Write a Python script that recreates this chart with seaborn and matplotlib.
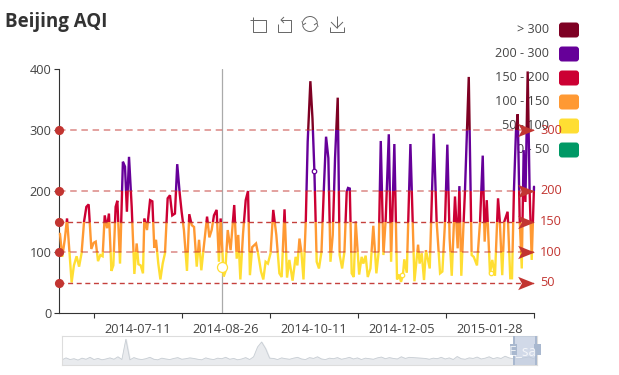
import numpy as np
import pandas as pd
import matplotlib
matplotlib.use('Agg')
import matplotlib.pyplot as plt
import seaborn as sns
from matplotlib.patches import Rectangle, FancyBboxPatch, Arc
from matplotlib.path import Path

# position along the category axis and AQI
obs = [0.5, 1.7, 3.0, 4.2, 5.4, 6.6, 7.8, 9.2, 10.5, 11.8, 13.1, 14.3, 15.5, 16.9, 18.1, 19.2, 20.4, 21.6, 22.8, 23.9,
       25.1, 26.1, 27.4, 28.4, 29.6, 30.5, 31.9, 33.4, 34.5, 35.5, 36.6, 38.0, 39.4, 40.6, 41.5, 42.7, 43.9, 44.6, 46.0, 47.6,
       48.8, 49.8, 50.7, 51.9, 53.0, 54.2, 55.4, 56.8, 58.0, 59.2, 60.6, 61.8, 63.1, 64.1, 65.3, 66.9, 68.1, 69.4, 70.6, 72.0,
       73.2, 74.4, 75.6, 77.4, 78.6, 79.8, 81.0, 82.4, 83.6, 84.5, 86.1, 86.9, 88.2, 89.7, 91.6, 92.9, 93.7, 94.8, 96.2, 97.6,
       98.8, 99.8, 101.0, 103.0, 104.2, 105.6, 106.8, 108.0, 109.2, 110.6, 112.0, 113.6, 115.2, 116.4, 117.9, 119.2, 120.4, 122.1, 123.7, 124.6,
       125.7, 126.7, 127.8, 129.0, 130.0, 131.4, 132.5, 133.5, 134.7, 135.9, 137.2, 138.4, 139.6, 140.8, 141.9, 143.1, 144.3, 145.7, 146.7, 148.0,
       149.2, 150.4, 151.1, 152.0, 153.0, 154.1, 155.1, 156.9, 158.2, 159.1, 160.3, 161.4, 162.8, 164.3, 165.9, 167.1, 168.2, 169.6, 170.8, 172.4,
       173.6, 175.3, 176.7, 177.8, 178.8, 179.8, 180.5, 181.8, 183.7, 185.8, 187.7, 188.5, 189.6, 190.8, 191.8, 193.8, 195.9, 197.4, 199.2, 200.4,
       201.8, 203.0, 204.2, 205.3, 207.0, 208.4, 209.3, 210.3, 212.2, 214.2, 215.7, 216.8, 218.5, 220.1, 221.5, 222.5, 223.6, 225.3, 226.5, 227.9,
       229.5, 230.4, 231.7, 232.8, 234.5, 235.9, 236.8, 237.8, 238.9, 239.8, 240.8, 241.9, 242.9, 243.8, 245.0, 246.0, 247.1, 248.3]
aqi = [130, 92, 120, 155, 103, 50, 78, 93, 76, 98, 150, 174, 178, 105, 115, 117, 85, 95, 93, 160,
       139, 163, 69, 78, 174, 184, 81, 248, 240, 166, 256, 174, 64, 114, 80, 78, 65, 155, 136, 185,
       183, 107, 120, 81, 55, 81, 98, 188, 193, 160, 163, 244, 196, 166, 136, 69, 162, 144, 141, 76,
       120, 70, 106, 158, 124, 136, 160, 169, 84, 155, 60, 67, 136, 103, 177, 89, 128, 55, 130, 185,
       200, 62, 108, 114, 95, 68, 55, 84, 81, 98, 169, 128, 65, 59, 170, 58, 87, 53, 92, 78,
       122, 100, 55, 150, 281, 380, 319, 233, 84, 73, 100, 200, 289, 254, 84, 128, 254, 353, 95, 73,
       100, 199, 205, 204, 65, 59, 150, 63, 92, 81, 94, 59, 73, 143, 65, 100, 282, 95, 155, 293,
       84, 277, 55, 63, 51, 63, 88, 66, 277, 52, 112, 81, 98, 54, 103, 73, 294, 150, 65, 68,
       150, 276, 122, 61, 191, 106, 208, 61, 199, 387, 95, 92, 78, 150, 258, 117, 185, 65, 87, 61,
       188, 152, 62, 150, 166, 57, 57, 200, 300, 326, 155, 73, 267, 182, 396, 200, 87, 207]

# visual map pieces
piece_labels = ['> 300', '200 - 300', '150 - 200', '100 - 150', '50 - 100', '0 - 50']
piece_colors = ['#7e0023', '#660099', '#cc0033', '#ff9933', '#ffde33', '#009966']
piece_low = [300, 200, 150, 100, 50, 0]
piece_high = [500, 300, 200, 150, 100, 50]

levels = [50, 100, 150, 200, 300]
level_alpha = [0.95, 0.5, 0.95, 0.5, 0.5]

x_ticks = [18.3, 64.3, 110.3, 156.3, 202.3, 248.3]
x_label_pos = [41.3, 87.3, 133.3, 179.3, 225.3]
x_labels = ['2014-07-11', '2014-08-26', '2014-10-11', '2014-12-05', '2015-01-28']
y_ticks = [0, 100, 200, 300, 400]

# hollow symbols left on the line
hover_obs = [85.2, 133.5, 179.3, 225.7]
hover_aqi = [75, 233, 62, 65]
hover_col = ['#ffde33', '#660099', '#ffde33', '#ffde33']
hover_size = [7.2, 3.2, 3.2, 3.2]
pointer_obs = 85.2

# whole range series in the slider
overview = [95, 130, 100, 115, 90, 125, 105, 140, 100, 120, 95, 110, 130, 105, 150, 100, 470, 95, 135, 110,
            100, 115, 140, 105, 95, 125, 110, 100, 120, 135, 105, 115, 130, 120, 105, 95, 130, 110, 100, 125,
            115, 140, 105, 120, 95, 110, 135, 100, 150, 330, 420, 300, 125, 120, 100, 130, 115, 105, 125, 140,
            110, 100, 135, 120, 150, 110, 100, 125, 115, 135, 105, 120, 140, 110, 130, 100, 125, 115, 105, 130,
            145, 115, 135, 120, 110, 150, 120, 140, 135, 130, 125, 120, 105, 125, 115, 140, 110, 130, 100, 155,
            115, 105, 130, 120, 145, 110, 125, 150, 115, 135, 120, 160, 130, 115, 145, 125, 135, 150, 120, 140]

RED = '#c23531'
TXT = '#444444'

sns.set_style('white')
plt.rcParams['font.family'] = ['Open Sans', 'DejaVu Sans']
plt.rcParams['font.size'] = 9

W, H = 619, 375
fig = plt.figure(figsize=(W / 100, H / 100), dpi=100)

# pixel space layer for title, legend, toolbox
bg = fig.add_axes([0, 0, 1, 1], zorder=1)
bg.set_xlim(0, W)
bg.set_ylim(H, 0)
bg.axis('off')

ax = fig.add_axes([59 / W, (H - 313) / H, 475 / W, 244 / H], zorder=2)
ax.patch.set_visible(False)

df = pd.DataFrame({'obs': obs, 'aqi': aqi})

# ---------------------------------------------------------
# one line per piece, clipped to its band
# ---------------------------------------------------------
for col, lo, hi in zip(piece_colors, piece_low, piece_high):
    sns.lineplot(data=df, x='obs', y='aqi', color=col, linewidth=1.7, estimator=None, sort=False, ax=ax, zorder=3)
    line = ax.lines[-1]
    line.set_solid_joinstyle('miter')
    line.set_clip_path(Rectangle((-5, lo), 260, hi - lo, transform=ax.transData))

ax.set_xlim(0, 248.3)
ax.set_ylim(0, 400)
ax.set_xlabel('')
ax.set_ylabel('')

sns.despine(ax=ax)
for s in ['left', 'bottom']:
    ax.spines[s].set_color('#333333')
    ax.spines[s].set_linewidth(0.8)

ax.set_yticks(y_ticks)
ax.tick_params(axis='y', length=3.6, width=0.8, color='#333333', labelcolor=TXT, labelsize=9.2, pad=2, left=True)
ax.set_xticks(x_label_pos)
ax.set_xticklabels(x_labels)
ax.set_xticks(x_ticks, minor=True)
ax.tick_params(axis='x', which='major', length=0, labelcolor=TXT, labelsize=9.2, pad=7)
ax.tick_params(axis='x', which='minor', length=3.6, width=0.8, color='#333333', bottom=True)

ax.axvline(pointer_obs, color='#aaaaaa', linewidth=0.9, zorder=2)

# mark lines with both end symbols
arrow = Path([(-1, 0.8), (1, 0), (-1, -0.8), (-0.55, 0), (-1, 0.8)],
             [Path.MOVETO, Path.LINETO, Path.LINETO, Path.LINETO, Path.CLOSEPOLY])
for lev, al in zip(levels, level_alpha):
    ax.axhline(lev, color=RED, linestyle=(0, (3.6, 2.6)), linewidth=1.3 if al < 0.9 else 1.0, alpha=al, zorder=4)
    ax.plot([0], [lev], 'o', color=RED, markersize=6.6, markeredgewidth=0, clip_on=False, zorder=6)
    ax.plot([248.3 - 4], [lev], marker=arrow, color=RED, markersize=12, markeredgewidth=0, clip_on=False, zorder=6)
    ax.annotate(str(lev), (248.3, lev), xytext=(4.5, 0), textcoords='offset points', color=RED,
                fontsize=9.2, va='center', ha='left', annotation_clip=False, zorder=6)

for xv, yv, c, ms in zip(hover_obs, hover_aqi, hover_col, hover_size):
    ax.plot([xv], [yv], 'o', markerfacecolor='white', markeredgecolor=c, markeredgewidth=0.9,
            markersize=ms, zorder=5)

# ---------------------------------------------------------
# title, legend
# ---------------------------------------------------------
bg.text(5, 22, 'Beijing AQI', fontsize=13.5, fontweight='bold', color='#333333', va='center', ha='left')

for i, (lab, col) in enumerate(zip(piece_labels, piece_colors)):
    yc = 30 + i * 24
    bg.add_patch(FancyBboxPatch((561, yc - 5.5), 16, 11, boxstyle='round,pad=2,rounding_size=3',
                                facecolor=col, edgecolor='none'))
    bg.text(549, yc - 0.5, lab, fontsize=9.1, color=TXT, va='center', ha='right')

# ---------------------------------------------------------
# toolbox icons
# ---------------------------------------------------------
ic = dict(color='#666666', linewidth=0.7, solid_capstyle='butt')
bg.plot([253, 253, 266, 266, 253], [20, 32, 32, 20, 20], **ic)
bg.plot([250, 258], [20, 20], **ic)
bg.plot([253, 253], [17, 22], **ic)
bg.plot([281, 291, 291, 278, 278], [20, 20, 32, 32, 24], **ic)
bg.plot([284, 281, 284], [17, 20, 23], **ic)
bg.add_patch(Arc((310, 24), 15, 15, theta1=20, theta2=170, color='#666666', linewidth=0.7))
bg.add_patch(Arc((310, 24), 15, 15, theta1=200, theta2=350, color='#666666', linewidth=0.7))
bg.plot([302, 303, 306], [21, 25, 23], **ic)
bg.plot([318, 317, 314], [27, 23, 25], **ic)
bg.plot([337, 337], [16, 28], **ic)
bg.plot([331, 337, 343], [22, 28, 22], **ic)
bg.plot([330, 330, 344, 344], [27, 32, 32, 27], **ic)

# ---------------------------------------------------------
# data zoom slider
# ---------------------------------------------------------
ov = fig.add_axes([62 / W, (H - 365) / H, 475 / W, 29 / H], zorder=1)
ov_df = pd.DataFrame({'pos': np.arange(len(overview)), 'val': overview})
sns.lineplot(data=ov_df, x='pos', y='val', color='#c8ced4', linewidth=0.6, estimator=None, ax=ov)
ov.fill_between(ov_df['pos'], ov_df['val'], color='#e9ebee')
ov.set_xlim(0, len(overview) - 1)
ov.set_ylim(0, 530)
ov.set_xticks([])
ov.set_yticks([])
ov.set_xlabel('')
ov.set_ylabel('')
for s in ov.spines.values():
    s.set_color('#dddddd')
    s.set_linewidth(0.8)

top = fig.add_axes([0, 0, 1, 1], zorder=3)
top.set_xlim(0, W)
top.set_ylim(H, 0)
top.axis('off')
top.add_patch(Rectangle((513, 336), 24, 29, facecolor='#b9c6dc', alpha=0.65, edgecolor='none'))
top.add_patch(Rectangle((513, 336), 1.5, 29, facecolor='#a9b8cf', edgecolor='none'))
top.add_patch(Rectangle((535, 336), 1.5, 29, facecolor='#a9b8cf', edgecolor='none'))
top.add_patch(Rectangle((510, 344), 7, 11, facecolor='#a9b8cf', edgecolor='none'))
top.add_patch(Rectangle((534, 344), 7, 11, facecolor='#a9b8cf', edgecolor='none'))
top.text(509, 352, 'E_sa', fontsize=10, color='white', alpha=0.75, va='center', ha='left')

fig.savefig('out.png', dpi=100)
plt.close(fig)
